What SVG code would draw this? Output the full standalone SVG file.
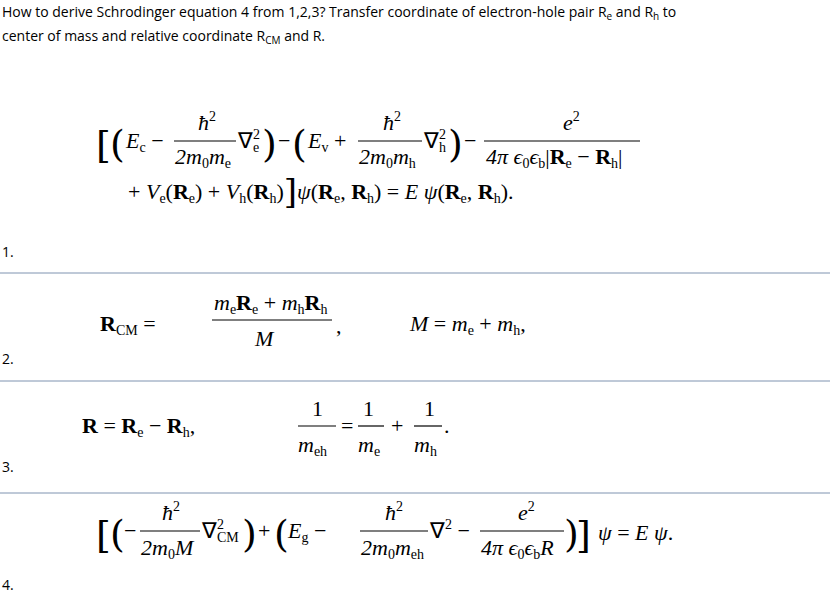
<svg xmlns="http://www.w3.org/2000/svg" width="835" height="599" viewBox="0 0 835 599">
<style>
.h{font-family:"Open Sans","Liberation Sans",sans-serif;font-size:14px;fill:#000}
.m{font-family:"Liberation Serif",serif;font-size:22px;fill:#000}
.i{font-style:italic}
.b{font-weight:bold}
.s{font-size:14px;font-style:normal}
.br{font-family:"DejaVu Serif",serif;font-size:38px;fill:#000}
.sep{stroke:#7f93b0;stroke-width:1}
.fl{stroke:#000;stroke-width:1.2}
</style>
<rect width="835" height="599" fill="#fff"/>
<text class="h" x="2" y="17">How to derive Schrodinger equation 4 from 1,2,3? Transfer coordinate of electron-hole pair R<tspan font-size="10" dy="3">e</tspan><tspan dy="-3"> and R</tspan><tspan font-size="10" dy="3">h</tspan><tspan dy="-3"> to</tspan></text>
<text class="h" x="2" y="41">center of mass and relative coordinate R<tspan font-size="10" dy="3">CM</tspan><tspan dy="-3"> and R.</tspan></text>
<g id="eq1">
<text class="br" x="96" y="158">[</text>
<text class="br" x="110" y="157" font-size="32">(</text>
<text class="m i" x="126" y="148">E<tspan class="s" dy="4">c</tspan><tspan dy="-4" font-style="normal">  −</tspan></text>
<text class="m i" x="198" y="130">ħ<tspan class="s" dy="-9">2</tspan></text>
<line class="fl" x1="174" y1="141" x2="236" y2="141"/>
<text class="m i" x="175" y="164">2m<tspan class="s" dy="4">0</tspan><tspan dy="-4">m</tspan><tspan class="s" dy="4">e</tspan></text>
<text class="m" x="238" y="148">∇<tspan class="s" dy="-9">2</tspan><tspan class="s" dx="-7" dy="13">e</tspan></text>
<text class="br" x="262" y="157" font-size="32">)</text>
<text class="m" x="278" y="148">−</text>
<text class="br" x="292" y="157" font-size="32">(</text>
<text class="m i" x="308" y="148">E<tspan class="s" dy="4">v</tspan><tspan dy="-4" font-style="normal">  +</tspan></text>
<text class="m i" x="383" y="130">ħ<tspan class="s" dy="-9">2</tspan></text>
<line class="fl" x1="358" y1="141" x2="422" y2="141"/>
<text class="m i" x="359" y="164">2m<tspan class="s" dy="4">0</tspan><tspan dy="-4">m</tspan><tspan class="s" dy="4">h</tspan></text>
<text class="m" x="424" y="148">∇<tspan class="s" dy="-9">2</tspan><tspan class="s" dx="-7" dy="13">h</tspan></text>
<text class="br" x="448" y="157" font-size="32">)</text>
<text class="m" x="464" y="148">−</text>
<text class="m i" x="563" y="130">e<tspan class="s" dy="-9">2</tspan></text>
<line class="fl" x1="484" y1="141" x2="640" y2="141"/>
<text class="m i" x="486" y="164">4π ϵ<tspan class="s" dy="4">0</tspan><tspan dy="-4">ϵ</tspan><tspan class="s" dy="4">b</tspan><tspan dy="-4" font-style="normal">|</tspan><tspan class="b" font-style="normal">R</tspan><tspan class="s" dy="4">e</tspan><tspan dy="-4" font-style="normal"> − </tspan><tspan class="b" font-style="normal">R</tspan><tspan class="s" dy="4">h</tspan><tspan dy="-4" font-style="normal">|</tspan></text>
<text class="m i" x="128" y="199"><tspan font-style="normal">+ </tspan>V<tspan class="s" dy="4">e</tspan><tspan dy="-4" font-style="normal">(</tspan><tspan class="b" font-style="normal">R</tspan><tspan class="s" dy="4">e</tspan><tspan dy="-4" font-style="normal">) + </tspan>V<tspan class="s" dy="4">h</tspan><tspan dy="-4" font-style="normal">(</tspan><tspan class="b" font-style="normal">R</tspan><tspan class="s" dy="4">h</tspan><tspan dy="-4" font-style="normal">)</tspan><tspan font-style="normal" font-family="DejaVu Serif" font-size="34" dy="4">]</tspan><tspan dy="-4">ψ</tspan><tspan font-style="normal">(</tspan><tspan class="b" font-style="normal">R</tspan><tspan class="s" dy="4">e</tspan><tspan dy="-4" font-style="normal">, </tspan><tspan class="b" font-style="normal">R</tspan><tspan class="s" dy="4">h</tspan><tspan dy="-4" font-style="normal">) = </tspan>E ψ<tspan font-style="normal">(</tspan><tspan class="b" font-style="normal">R</tspan><tspan class="s" dy="4">e</tspan><tspan dy="-4" font-style="normal">, </tspan><tspan class="b" font-style="normal">R</tspan><tspan class="s" dy="4">h</tspan><tspan dy="-4" font-style="normal">).</tspan></text>
<text class="h" x="2" y="257">1.</text>
</g>
<line class="sep" x1="0" y1="273" x2="830" y2="273"/>
<g id="eq2">
<text class="m" x="100" y="331"><tspan class="b">R</tspan><tspan class="s" dy="4">CM</tspan><tspan dy="-4">  =</tspan></text>
<text class="m i" x="214" y="310">m<tspan class="s" dy="4">e</tspan><tspan dy="-4" class="b" font-style="normal">R</tspan><tspan class="s" dy="4">e</tspan><tspan dy="-4" font-style="normal"> + </tspan>m<tspan class="s" dy="4">h</tspan><tspan dy="-4" class="b" font-style="normal">R</tspan><tspan class="s" dy="4">h</tspan></text>
<line class="fl" x1="212" y1="320" x2="332" y2="320"/>
<text class="m i" x="255" y="346">M</text>
<text class="m" x="336" y="333">,</text>
<text class="m i" x="410" y="331">M<tspan font-style="normal"> = </tspan>m<tspan class="s" dy="4">e</tspan><tspan dy="-4" font-style="normal"> + </tspan>m<tspan class="s" dy="4">h</tspan><tspan dy="-4" font-style="normal">,</tspan></text>
<text class="h" x="2" y="364">2.</text>
</g>
<line class="sep" x1="0" y1="381" x2="830" y2="381"/>
<g id="eq3">
<text class="m" x="82" y="433"><tspan class="b">R</tspan> = <tspan class="b">R</tspan><tspan class="s" dy="4">e</tspan><tspan dy="-4"> − </tspan><tspan class="b">R</tspan><tspan class="s" dy="4">h</tspan><tspan dy="-4">,</tspan></text>
<text class="m" x="312" y="416">1</text>
<line class="fl" x1="298" y1="426" x2="336" y2="426"/>
<text class="m i" x="298" y="452">m<tspan class="s" dy="4">eh</tspan></text>
<text class="m" x="341" y="433">=</text>
<text class="m" x="363" y="416">1</text>
<line class="fl" x1="358" y1="426" x2="384" y2="426"/>
<text class="m i" x="358" y="452">m<tspan class="s" dy="4">e</tspan></text>
<text class="m" x="391" y="433">+</text>
<text class="m" x="424" y="416">1</text>
<line class="fl" x1="414" y1="426" x2="442" y2="426"/>
<text class="m i" x="414" y="452">m<tspan class="s" dy="4">h</tspan></text>
<text class="m" x="444" y="433">.</text>
<text class="h" x="2" y="472">3.</text>
</g>
<line class="sep" x1="0" y1="493" x2="830" y2="493"/>
<g id="eq4">
<text class="br" x="96" y="548">[</text>
<text class="br" x="110" y="547" font-size="32">(</text>
<text class="m" x="124" y="538">−</text>
<text class="m i" x="162" y="520">ħ<tspan class="s" dy="-9">2</tspan></text>
<line class="fl" x1="140" y1="531" x2="200" y2="531"/>
<text class="m i" x="141" y="555">2m<tspan class="s" dy="4">0</tspan><tspan dy="-4">M</tspan></text>
<text class="m" x="202" y="538">∇<tspan class="s" dy="-9">2</tspan><tspan class="s" dx="-7" dy="13">CM</tspan></text>
<text class="br" x="242" y="547" font-size="32">)</text>
<text class="m" x="258" y="538">+</text>
<text class="br" x="274" y="547" font-size="32">(</text>
<text class="m i" x="288" y="538">E<tspan class="s" dy="4">g</tspan><tspan dy="-4" font-style="normal">  −</tspan></text>
<text class="m i" x="385" y="520">ħ<tspan class="s" dy="-9">2</tspan></text>
<line class="fl" x1="360" y1="531" x2="428" y2="531"/>
<text class="m i" x="361" y="555">2m<tspan class="s" dy="4">0</tspan><tspan dy="-4">m</tspan><tspan class="s" dy="4">eh</tspan></text>
<text class="m" x="430" y="538">∇<tspan class="s" dy="-9">2</tspan><tspan dy="9"> −</tspan></text>
<text class="m i" x="518" y="520">e<tspan class="s" dy="-9">2</tspan></text>
<line class="fl" x1="480" y1="531" x2="564" y2="531"/>
<text class="m i" x="481" y="555">4π ϵ<tspan class="s" dy="4">0</tspan><tspan dy="-4">ϵ</tspan><tspan class="s" dy="4">b</tspan><tspan dy="-4">R</tspan></text>
<text class="br" x="564" y="547" font-size="32">)</text>
<text class="br" x="576" y="548">]</text>
<text class="m i" x="598" y="540">ψ<tspan font-style="normal"> = </tspan>E ψ<tspan font-style="normal">.</tspan></text>
<text class="h" x="2" y="590">4.</text>
</g>
</svg>
